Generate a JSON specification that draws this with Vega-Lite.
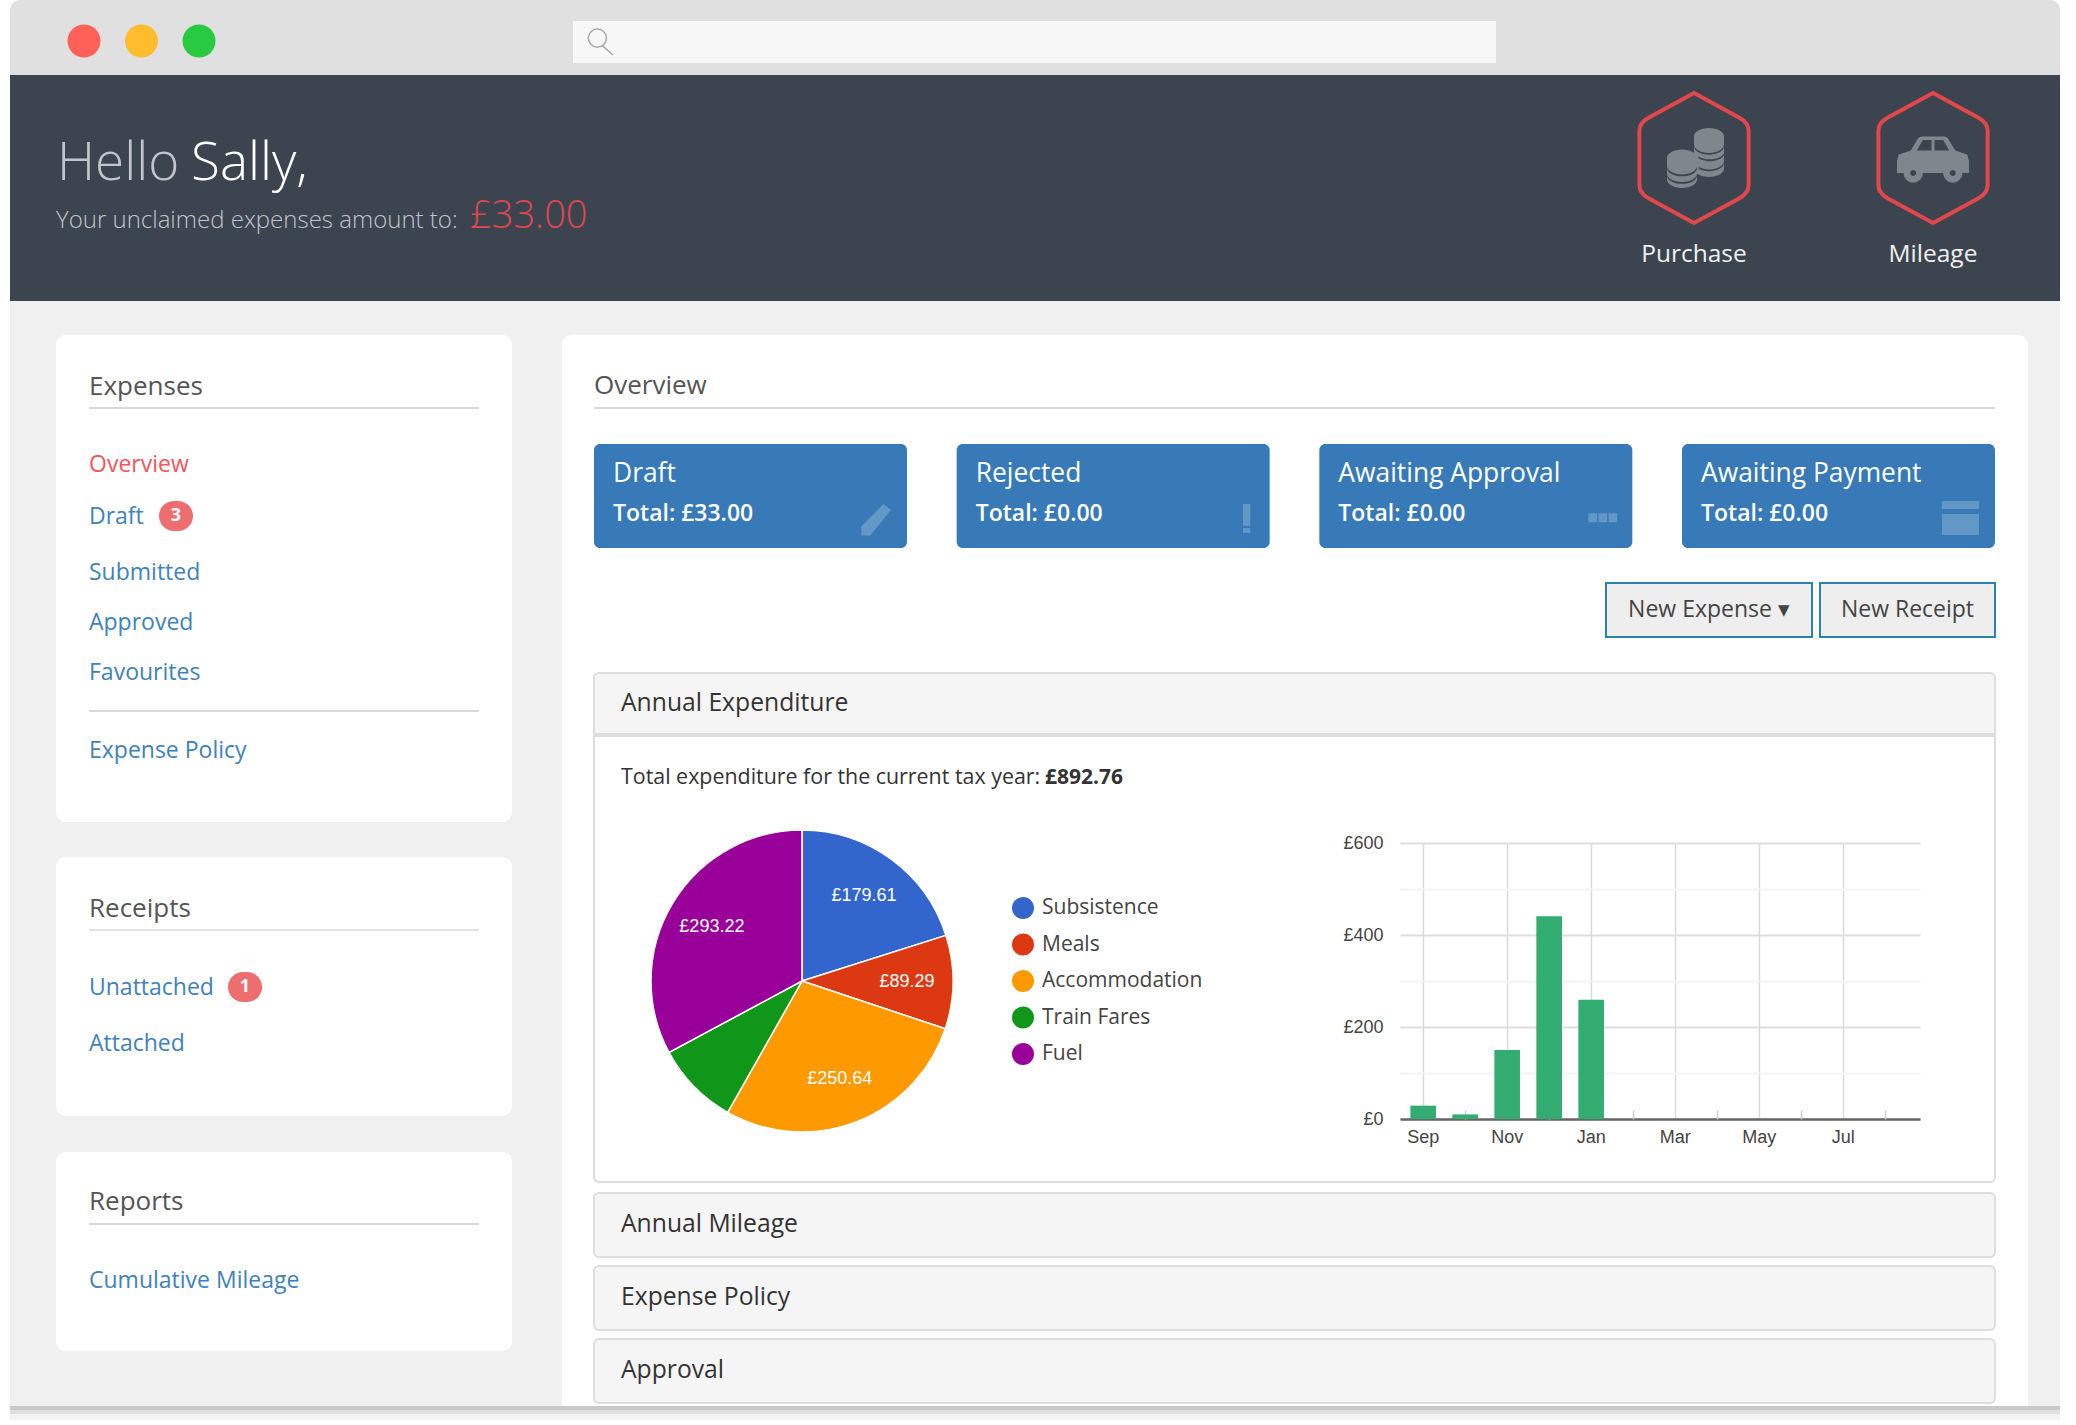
{"$schema":"https://vega.github.io/schema/vega-lite/v6.json","background":"white","padding":{"left":10,"top":0,"right":0,"bottom":0},"spacing":0,"resolve":{"scale":{"color":"independent","shape":"independent"}},"config":{"view":{"stroke":null},"font":"Open Sans"},"vconcat":[
{"resolve":{"scale":{"color":"independent","shape":"independent"}},"spacing":0,"hconcat":[
{"width":563,"height":75,"resolve":{"scale":{"x":"independent","y":"independent"}},"layer":[
{"data":{"values":[{}]},"mark":{"type":"rect","color":"#e0e0e0","cornerRadiusTopLeft":10}},
{"data":{"values":[{"b":"close"},{"b":"minimise"},{"b":"zoom"}]},"mark":{"type":"point","filled":true,"opacity":1,"size":1089,"shape":"circle","yOffset":3.5},"encoding":{"x":{"field":"b","type":"nominal","axis":null,"scale":{"type":"point","padding":0,"range":[74,189]}},"color":{"field":"b","type":"nominal","legend":null,"scale":{"domain":["close","minimise","zoom"],"range":["#ff6159","#ffbd2e","#28ca42"]}}}}
]},
{"spacing":0,"vconcat":[
{"width":923,"height":21,"data":{"values":[{}]},"mark":{"type":"rect","color":"#e0e0e0"}},
{"width":923,"height":42,"view":{"fill":"#f7f7f7"},"data":{"values":[{}]},"mark":{"type":"point","shape":"M0.5,-0.3A0.7,0.7 0 1 1 -0.9,-0.3A0.7,0.7 0 1 1 0.5,-0.3M0.2,0.3L1,1","size":676,"filled":false,"color":"#a8a8a8","strokeWidth":1.5,"opacity":1,"xOffset":27},"encoding":{"x":{"datum":"a","type":"nominal","axis":null,"scale":{"type":"point","align":0,"padding":0}}}},
{"width":923,"height":12,"data":{"values":[{}]},"mark":{"type":"rect","color":"#e0e0e0"}}
]},
{"width":564,"height":75,"data":{"values":[{}]},"mark":{"type":"rect","color":"#e0e0e0","cornerRadiusTopRight":10}}
]},
{"width":2050,"height":226,"view":{"fill":"#3c444f"},"resolve":{"scale":{"x":"independent","y":"independent","color":"independent","shape":"independent"}},"layer":[
{"data":{"values":[{"t":"Hello"},{"t":"Sally,"}]},"mark":{"type":"text","align":"left","baseline":"alphabetic","fontSize":53,"fontWeight":300},"encoding":{"text":{"field":"t"},"x":{"field":"t","type":"nominal","axis":null,"scale":{"type":"point","padding":0,"domain":["Hello","Sally,"],"range":[47,181]}},"y":{"datum":"greet","type":"nominal","axis":null,"scale":{"type":"point","padding":0,"domain":["greet","sub"],"range":[105,153]}},"color":{"field":"t","type":"nominal","legend":null,"scale":{"domain":["Hello","Sally,"],"range":["#c2c5c9","#ffffff"]}}}},
{"data":{"values":[{"t":"Your unclaimed expenses amount to:"}]},"mark":{"type":"text","align":"left","baseline":"alphabetic","fontSize":24,"fontWeight":300,"color":"#c2c5c9"},"encoding":{"text":{"field":"t"},"x":{"field":"t","type":"nominal","axis":null,"scale":{"type":"point","padding":0,"domain":["Your unclaimed expenses amount to:","£33.00"],"range":[46,460]}},"y":{"datum":"sub","type":"nominal","axis":null,"scale":{"type":"point","padding":0,"domain":["greet","sub"],"range":[105,153]}}}},
{"data":{"values":[{"t":"£33.00"}]},"mark":{"type":"text","align":"left","baseline":"alphabetic","fontSize":38,"fontWeight":300,"color":"#e2474c"},"encoding":{"text":{"field":"t"},"x":{"field":"t","type":"nominal","axis":null,"scale":{"type":"point","padding":0,"domain":["Your unclaimed expenses amount to:","£33.00"],"range":[46,460]}},"y":{"datum":"sub","type":"nominal","axis":null,"scale":{"type":"point","padding":0,"domain":["greet","sub"],"range":[105,153]}}}},
{"data":{"values":[{"t":"Purchase"},{"t":"Mileage"}]},"mark":{"type":"point","filled":false,"opacity":1,"size":16900,"color":"#e2474c","strokeWidth":4,"shape":"M0,-1L0.7,-0.62Q0.84,-0.54 0.84,-0.42L0.84,0.42Q0.84,0.54 0.7,0.62L0,1L-0.7,0.62Q-0.84,0.54 -0.84,0.42L-0.84,-0.42Q-0.84,-0.54 -0.7,-0.62Z"},"encoding":{"x":{"field":"t","type":"nominal","axis":null,"scale":{"type":"point","padding":0,"domain":["Purchase","Mileage"],"range":[1684,1923]}},"y":{"datum":"icon","type":"nominal","axis":null,"scale":{"type":"point","padding":0,"domain":["icon","label"],"range":[83,187]}}}},
{"data":{"values":[{"t":"Purchase"},{"t":"Mileage"}]},"mark":{"type":"point","filled":true,"opacity":1,"size":3600,"color":"#7f878d"},"encoding":{"x":{"field":"t","type":"nominal","axis":null,"scale":{"type":"point","padding":0,"domain":["Purchase","Mileage"],"range":[1684,1923]}},"y":{"datum":"icon","type":"nominal","axis":null,"scale":{"type":"point","padding":0,"domain":["icon","label"],"range":[83,187]}},"shape":{"field":"t","type":"nominal","legend":null,"scale":{"domain":["Purchase","Mileage"],"range":["M0,-0.72A0.5,0.28 0 0 1 1,-0.72L1,0.35A0.5,0.28 0 0 1 0,0.35ZM-0.9,0A0.5,0.28 0 0 1 0.1,0L0.1,0.72A0.5,0.28 0 0 1 -0.9,0.72Z","M-1.2,0.1L-1.14,-0.12L-0.74,-0.25L-0.5,-0.65Q-0.46,-0.72 -0.36,-0.72L0.36,-0.72Q0.46,-0.72 0.5,-0.65L0.74,-0.25L1.14,-0.12L1.2,0.1L1.2,0.5L0.98,0.5A0.32,0.32 0 0 1 0.34,0.5L-0.34,0.5A0.32,0.32 0 0 1 -0.98,0.5L-1.2,0.5Z"]}}}},
{"data":{"values":[{"t":"Purchase"},{"t":"Mileage"}]},"mark":{"type":"point","filled":true,"opacity":1,"size":3600,"color":"#3c444f"},"encoding":{"x":{"field":"t","type":"nominal","axis":null,"scale":{"type":"point","padding":0,"domain":["Purchase","Mileage"],"range":[1684,1923]}},"y":{"datum":"icon","type":"nominal","axis":null,"scale":{"type":"point","padding":0,"domain":["icon","label"],"range":[83,187]}},"shape":{"field":"t","type":"nominal","legend":null,"scale":{"domain":["Purchase","Mileage"],"range":["M0,-0.45A0.5,0.28 0 0 0 1,-0.45L1,-0.39A0.5,0.28 0 0 1 0,-0.39ZM0.15,-0.05A0.5,0.28 0 0 0 1,-0.15L1,-0.09A0.5,0.28 0 0 1 0.15,0.01ZM0.15,0.3A0.5,0.28 0 0 0 1,0.1L1,0.16A0.5,0.28 0 0 1 0.15,0.36ZM-0.9,0.27A0.5,0.28 0 0 0 0.1,0.27L0.1,0.33A0.5,0.28 0 0 1 -0.9,0.33ZM-0.9,0.52A0.5,0.28 0 0 0 0.1,0.52L0.1,0.58A0.5,0.28 0 0 1 -0.9,0.58Z","M-0.54,-0.25L-0.34,-0.6L-0.05,-0.6L-0.05,-0.25ZM0.05,-0.25L0.05,-0.6L0.34,-0.6L0.54,-0.25ZM-0.56,0.5A0.1,0.1 0 1 0 -0.76,0.5A0.1,0.1 0 1 0 -0.56,0.5ZM0.76,0.5A0.1,0.1 0 1 0 0.56,0.5A0.1,0.1 0 1 0 0.76,0.5Z"]}}}},
{"data":{"values":[{"t":"Purchase"},{"t":"Mileage"}]},"mark":{"type":"text","baseline":"alphabetic","fontSize":24.5,"color":"#f0f0f0"},"encoding":{"text":{"field":"t"},"x":{"field":"t","type":"nominal","axis":null,"scale":{"type":"point","padding":0,"domain":["Purchase","Mileage"],"range":[1684,1923]}},"y":{"datum":"label","type":"nominal","axis":null,"scale":{"type":"point","padding":0,"domain":["icon","label"],"range":[83,187]}}}}
]},
{"resolve":{"scale":{"color":"independent","shape":"independent"}},"spacing":0,"hconcat":[
{"width":46,"height":1105,"data":{"values":[{}]},"mark":{"type":"rect","color":"#f0f0f0"}},
{"spacing":0,"resolve":{"scale":{"color":"independent","shape":"independent"}},"vconcat":[
{"width":456,"height":34,"data":{"values":[{}]},"mark":{"type":"rect","color":"#f0f0f0"}},
{"width":456,"height":74,"view":{"fill":"#f0f0f0"},"resolve":{"scale":{"x":"independent","y":"independent"}},"layer":[
{"data":{"values":[{}]},"mark":{"type":"rect","color":"#ffffff","cornerRadiusTopLeft":10,"cornerRadiusTopRight":10}},
{"data":{"values":[{"t":"Expenses"}]},"mark":{"type":"text","align":"left","xOffset":33,"yOffset":15,"fontSize":26,"color":"#555555"},"encoding":{"text":{"field":"t"},"x":{"datum":"a","type":"nominal","axis":null,"scale":{"type":"point","align":0,"padding":0}}}},
{"data":{"values":[{"k":"rule"}]},"mark":{"type":"rect","color":"#d8d8d8"},"encoding":{"x":{"field":"k","type":"nominal","axis":null,"scale":{"type":"band","range":[33,423],"padding":0}},"y":{"field":"k","type":"nominal","axis":null,"scale":{"type":"band","range":[72,74],"padding":0}}}}
]},
{"width":456,"height":413,"view":{"fill":"#f0f0f0"},"resolve":{"scale":{"x":"independent","y":"independent","color":"independent"}},"layer":[
{"data":{"values":[{}]},"mark":{"type":"rect","color":"#ffffff","cornerRadiusBottomLeft":10,"cornerRadiusBottomRight":10}},
{"data":{"values":[{"t":"Overview"},{"t":"Draft"}]},"mark":{"type":"text","align":"left","xOffset":33,"fontSize":23},"encoding":{"text":{"field":"t"},"x":{"datum":"a","type":"nominal","axis":null,"scale":{"type":"point","align":0,"padding":0}},"y":{"field":"t","type":"nominal","axis":null,"scale":{"type":"point","padding":0,"domain":["Overview","Draft"],"range":[56,108]}},"color":{"field":"t","type":"nominal","legend":null,"scale":{"domain":["Overview","Draft"],"range":["#f2575b","#3f82bb"]}}}},
{"data":{"values":[{"t":"Submitted"},{"t":"Approved"}]},"mark":{"type":"text","align":"left","xOffset":33,"fontSize":23,"color":"#3f82bb"},"encoding":{"text":{"field":"t"},"x":{"datum":"a","type":"nominal","axis":null,"scale":{"type":"point","align":0,"padding":0}},"y":{"field":"t","type":"nominal","axis":null,"scale":{"type":"point","padding":0,"domain":["Submitted","Approved"],"range":[164,214]}}}},
{"data":{"values":[{"t":"Favourites"},{"t":"Expense Policy"}]},"mark":{"type":"text","align":"left","xOffset":33,"fontSize":23,"color":"#3f82bb"},"encoding":{"text":{"field":"t"},"x":{"datum":"a","type":"nominal","axis":null,"scale":{"type":"point","align":0,"padding":0}},"y":{"field":"t","type":"nominal","axis":null,"scale":{"type":"point","padding":0,"domain":["Favourites","Expense Policy"],"range":[264,342]}}}},
{"data":{"values":[{"k":"rule"}]},"mark":{"type":"rect","color":"#d8d8d8"},"encoding":{"x":{"field":"k","type":"nominal","axis":null,"scale":{"type":"band","range":[33,423],"padding":0}},"y":{"field":"k","type":"nominal","axis":null,"scale":{"type":"band","range":[301,303],"padding":0}}}},
{"data":{"values":[{"t":"3"}]},"mark":{"type":"rect","color":"#ee6d6f","cornerRadius":15},"encoding":{"x":{"field":"t","type":"nominal","axis":null,"scale":{"type":"band","range":[103,137],"padding":0}},"y":{"field":"t","type":"nominal","axis":null,"scale":{"type":"band","range":[92,122],"padding":0}}}},
{"data":{"values":[{"t":"3"}]},"mark":{"type":"text","fontSize":18,"fontWeight":"bold","color":"#ffffff"},"encoding":{"text":{"field":"t"},"x":{"field":"t","type":"nominal","axis":null,"scale":{"type":"band","range":[103,137],"padding":0}},"y":{"field":"t","type":"nominal","axis":null,"scale":{"type":"band","range":[92,122],"padding":0}}}}
]},
{"width":456,"height":35,"data":{"values":[{}]},"mark":{"type":"rect","color":"#f0f0f0"}},
{"width":456,"height":74,"view":{"fill":"#f0f0f0"},"resolve":{"scale":{"x":"independent","y":"independent"}},"layer":[
{"data":{"values":[{}]},"mark":{"type":"rect","color":"#ffffff","cornerRadiusTopLeft":10,"cornerRadiusTopRight":10}},
{"data":{"values":[{"t":"Receipts"}]},"mark":{"type":"text","align":"left","xOffset":33,"yOffset":15,"fontSize":26,"color":"#555555"},"encoding":{"text":{"field":"t"},"x":{"datum":"a","type":"nominal","axis":null,"scale":{"type":"point","align":0,"padding":0}}}},
{"data":{"values":[{"k":"rule"}]},"mark":{"type":"rect","color":"#e2e2e2"},"encoding":{"x":{"field":"k","type":"nominal","axis":null,"scale":{"type":"band","range":[33,423],"padding":0}},"y":{"field":"k","type":"nominal","axis":null,"scale":{"type":"band","range":[72,74],"padding":0}}}}
]},
{"width":456,"height":185,"view":{"fill":"#f0f0f0"},"resolve":{"scale":{"x":"independent","y":"independent"}},"layer":[
{"data":{"values":[{}]},"mark":{"type":"rect","color":"#ffffff","cornerRadiusBottomLeft":10,"cornerRadiusBottomRight":10}},
{"data":{"values":[{"t":"Unattached"},{"t":"Attached"}]},"mark":{"type":"text","align":"left","xOffset":33,"fontSize":23,"color":"#3f82bb"},"encoding":{"text":{"field":"t"},"x":{"datum":"a","type":"nominal","axis":null,"scale":{"type":"point","align":0,"padding":0}},"y":{"field":"t","type":"nominal","axis":null,"scale":{"type":"point","padding":0,"domain":["Unattached","Attached"],"range":[57,113]}}}},
{"data":{"values":[{"t":"1"}]},"mark":{"type":"rect","color":"#ee6d6f","cornerRadius":15},"encoding":{"x":{"field":"t","type":"nominal","axis":null,"scale":{"type":"band","range":[172,206],"padding":0}},"y":{"field":"t","type":"nominal","axis":null,"scale":{"type":"band","range":[41,71],"padding":0}}}},
{"data":{"values":[{"t":"1"}]},"mark":{"type":"text","fontSize":18,"fontWeight":"bold","color":"#ffffff"},"encoding":{"text":{"field":"t"},"x":{"field":"t","type":"nominal","axis":null,"scale":{"type":"band","range":[172,206],"padding":0}},"y":{"field":"t","type":"nominal","axis":null,"scale":{"type":"band","range":[41,71],"padding":0}}}}
]},
{"width":456,"height":36,"data":{"values":[{}]},"mark":{"type":"rect","color":"#f0f0f0"}},
{"width":456,"height":74,"view":{"fill":"#f0f0f0"},"resolve":{"scale":{"x":"independent","y":"independent"}},"layer":[
{"data":{"values":[{}]},"mark":{"type":"rect","color":"#ffffff","cornerRadiusTopLeft":10,"cornerRadiusTopRight":10}},
{"data":{"values":[{"t":"Reports"}]},"mark":{"type":"text","align":"left","xOffset":33,"yOffset":13,"fontSize":26,"color":"#555555"},"encoding":{"text":{"field":"t"},"x":{"datum":"a","type":"nominal","axis":null,"scale":{"type":"point","align":0,"padding":0}}}},
{"data":{"values":[{"k":"rule"}]},"mark":{"type":"rect","color":"#d8d8d8"},"encoding":{"x":{"field":"k","type":"nominal","axis":null,"scale":{"type":"band","range":[33,423],"padding":0}},"y":{"field":"k","type":"nominal","axis":null,"scale":{"type":"band","range":[71,73],"padding":0}}}}
]},
{"width":456,"height":125,"view":{"fill":"#f0f0f0"},"layer":[
{"data":{"values":[{}]},"mark":{"type":"rect","color":"#ffffff","cornerRadiusBottomLeft":10,"cornerRadiusBottomRight":10}},
{"data":{"values":[{"t":"Cumulative Mileage"}]},"mark":{"type":"text","align":"left","xOffset":33,"yOffset":-7.5,"fontSize":23,"color":"#3f82bb"},"encoding":{"text":{"field":"t"},"x":{"datum":"a","type":"nominal","axis":null,"scale":{"type":"point","align":0,"padding":0}}}}
]},
{"width":456,"height":55,"data":{"values":[{}]},"mark":{"type":"rect","color":"#f0f0f0"}}
]},
{"width":50,"height":1105,"data":{"values":[{}]},"mark":{"type":"rect","color":"#f0f0f0"}},
{"spacing":0,"resolve":{"scale":{"color":"independent","shape":"independent"}},"vconcat":[
{"width":1466,"height":34,"data":{"values":[{}]},"mark":{"type":"rect","color":"#f0f0f0"}},
{"width":1466,"height":109,"view":{"fill":"#f0f0f0"},"resolve":{"scale":{"x":"independent","y":"independent"}},"layer":[
{"data":{"values":[{}]},"mark":{"type":"rect","color":"#ffffff","cornerRadiusTopLeft":10,"cornerRadiusTopRight":10}},
{"data":{"values":[{"t":"Overview"}]},"mark":{"type":"text","align":"left","xOffset":32,"yOffset":-3.5,"fontSize":26,"color":"#555555"},"encoding":{"text":{"field":"t"},"x":{"datum":"a","type":"nominal","axis":null,"scale":{"type":"point","align":0,"padding":0}}}},
{"data":{"values":[{"k":"rule"}]},"mark":{"type":"rect","color":"#d8d8d8"},"encoding":{"x":{"field":"k","type":"nominal","axis":null,"scale":{"type":"band","range":[32,1433],"padding":0}},"y":{"field":"k","type":"nominal","axis":null,"scale":{"type":"band","range":[72,74],"padding":0}}}}
]},
{"width":1466,"height":104,"data":{"values":[{"card":"Draft","total":"Total: £33.00"},{"card":"Rejected","total":"Total: £0.00"},{"card":"Awaiting Approval","total":"Total: £0.00"},{"card":"Awaiting Payment","total":"Total: £0.00"}]},"encoding":{"x":{"field":"card","type":"nominal","axis":null,"sort":null,"scale":{"type":"band","range":[32,1433],"paddingInner":0.137,"paddingOuter":0}}},"layer":[
{"mark":{"type":"rect","color":"#377ab7","cornerRadius":6}},
{"mark":{"type":"text","align":"left","xOffset":19,"yOffset":-22,"fontSize":26.4,"color":"#ffffff"},"encoding":{"x":{"field":"card","type":"nominal","axis":null,"sort":null,"bandPosition":0},"text":{"field":"card"}}},
{"mark":{"type":"text","align":"left","xOffset":19,"yOffset":18,"fontSize":23,"fontWeight":600,"color":"#ffffff"},"encoding":{"x":{"field":"card","type":"nominal","axis":null,"sort":null,"bandPosition":0},"text":{"field":"total"}}},
{"mark":{"type":"point","filled":true,"opacity":0.22,"color":"#ffffff","size":1100,"xOffset":-30,"yOffset":23},"encoding":{"x":{"field":"card","type":"nominal","axis":null,"sort":null,"bandPosition":1},"shape":{"field":"card","type":"nominal","legend":null,"scale":{"domain":["Draft","Rejected","Awaiting Approval","Awaiting Payment"],"range":["M0.4,-0.9L0.85,-0.55L-0.4,1L-0.95,1L-0.95,0.45Z","M0.2,-0.9L0.64,-0.9L0.64,0.4L0.2,0.4ZM0.2,0.55L0.64,0.55L0.64,0.85L0.2,0.85Z","M-0.84,-0.35L-0.32,-0.35L-0.32,0.2L-0.84,0.2ZM-0.23,-0.35L0.29,-0.35L0.29,0.2L-0.23,0.2ZM0.38,-0.35L0.9,-0.35L0.9,0.2L0.38,0.2Z","M-1.39,-1.08L0.84,-1.08L0.84,-0.6L-1.39,-0.6ZM-1.39,-0.3L0.84,-0.3L0.84,0.96L-1.39,0.96Z"]}}}}
]},
{"width":1466,"height":34,"data":{"values":[{}]},"mark":{"type":"rect","opacity":0}},
{"width":1466,"height":56,"resolve":{"scale":{"x":"independent","y":"independent"}},"layer":[
{"data":{"values":[{"t":"New Expense ▾"}]},"encoding":{"x":{"field":"t","type":"nominal","axis":null,"scale":{"type":"band","range":[1044,1250],"padding":0}}},"layer":[
{"mark":{"type":"rect","color":"#eeeeee","stroke":"#2c82a9","strokeWidth":2},"encoding":{"y":{"field":"t","type":"nominal","axis":null,"scale":{"type":"band","range":[1,55],"padding":0}}}},
{"mark":{"type":"text","fontSize":23,"color":"#444444"},"encoding":{"text":{"field":"t"}}}
]},
{"data":{"values":[{"t":"New Receipt"}]},"encoding":{"x":{"field":"t","type":"nominal","axis":null,"scale":{"type":"band","range":[1258,1433],"padding":0}}},"layer":[
{"mark":{"type":"rect","color":"#eeeeee","stroke":"#2c82a9","strokeWidth":2},"encoding":{"y":{"field":"t","type":"nominal","axis":null,"scale":{"type":"band","range":[1,55],"padding":0}}}},
{"mark":{"type":"text","fontSize":23,"color":"#444444"},"encoding":{"text":{"field":"t"}}}
]}
]},
{"width":1466,"height":34,"data":{"values":[{}]},"mark":{"type":"rect","opacity":0}},
{"width":1466,"height":63,"data":{"values":[{"t":"Annual Expenditure"}]},"encoding":{"x":{"field":"t","type":"nominal","axis":null,"scale":{"type":"band","range":[32,1433],"padding":0}}},"layer":[
{"mark":{"type":"rect","color":"#f5f5f5","stroke":"#dddddd","strokeWidth":2,"cornerRadiusTopLeft":5,"cornerRadiusTopRight":5},"encoding":{"y":{"field":"t","type":"nominal","axis":null,"scale":{"type":"band","range":[1,62],"padding":0}}}},
{"mark":{"type":"text","align":"left","xOffset":27,"fontSize":24.7,"color":"#333333"},"encoding":{"x":{"field":"t","type":"nominal","axis":null,"bandPosition":0},"text":{"field":"t"}}}
]},
{"bounds":"flush","spacing":358,"resolve":{"scale":{"color":"independent","shape":"independent"}},"hconcat":[
{"width":480,"height":276,"resolve":{"scale":{"x":"independent","y":"independent"}},"layer":[
{"data":{"values":[{"k":"panel"}]},"mark":{"type":"rect","fillOpacity":0,"stroke":"#dddddd","strokeWidth":2,"cornerRadiusBottomLeft":5,"cornerRadiusBottomRight":5},"encoding":{"x":{"field":"k","type":"nominal","axis":null,"scale":{"type":"band","range":[32,1433],"padding":0}},"y":{"field":"k","type":"nominal","axis":null,"scale":{"type":"band","range":[-107,339],"padding":0}}}},
{"data":{"values":[{"t":"Total expenditure for the current tax year:"}]},"mark":{"type":"text","align":"left","yOffset":-203,"fontSize":21.4,"color":"#333333"},"encoding":{"text":{"field":"t"},"x":{"field":"t","type":"nominal","axis":null,"scale":{"type":"point","padding":0,"domain":["Total expenditure for the current tax year:","£892.76"],"range":[59,483]}}}},
{"data":{"values":[{"t":"£892.76"}]},"mark":{"type":"text","align":"left","yOffset":-203,"fontSize":21,"fontWeight":"bold","color":"#333333"},"encoding":{"text":{"field":"t"},"x":{"field":"t","type":"nominal","axis":null,"scale":{"type":"point","padding":0,"domain":["Total expenditure for the current tax year:","£892.76"],"range":[59,483]}}}},
{"data":{"values":[{"category":"Subsistence","amount":179.61,"label":"£179.61","rank":1},{"category":"Meals","amount":89.29,"label":"£89.29","rank":2},{"category":"Accommodation","amount":250.64,"label":"£250.64","rank":3},{"category":"Train Fares","amount":80.0,"label":"","rank":4},{"category":"Fuel","amount":293.22,"label":"£293.22","rank":5}]},"encoding":{"theta":{"field":"amount","type":"quantitative","stack":true},"order":{"field":"rank","type":"ordinal"}},"layer":[
{"mark":{"type":"arc","radius":151,"stroke":"#ffffff","strokeWidth":1.5},"encoding":{"color":{"field":"category","type":"nominal","scale":{"domain":["Subsistence","Meals","Accommodation","Train Fares","Fuel"],"range":["#3366cc","#dc3912","#ff9900","#109618","#990099"]},"legend":{"orient":"none","legendX":450,"legendY":54,"title":null,"symbolType":"circle","symbolSize":484,"symbolStrokeWidth":0,"symbolOpacity":1,"labelFont":"Open Sans","labelFontSize":21,"labelColor":"#444444","labelOffset":8,"labelLimit":300,"rowPadding":14.5}}}},
{"mark":{"type":"text","radius":105,"font":"Liberation Sans","fontSize":18,"color":"#ffffff"},"encoding":{"text":{"field":"label"}}}
]}
]},
{"width":520,"height":276,"data":{"values":[{"month":"Sep","amount":29},{"month":"Oct","amount":10},{"month":"Nov","amount":150},{"month":"Dec","amount":441},{"month":"Jan","amount":259},{"month":"Feb","amount":0},{"month":"Mar","amount":0},{"month":"Apr","amount":0},{"month":"May","amount":0},{"month":"Jun","amount":0},{"month":"Jul","amount":0},{"month":"Aug","amount":0}]},"resolve":{"axis":{"x":"independent"}},"encoding":{"x":{"field":"month","type":"nominal","sort":null,"title":null,"scale":{"type":"band","paddingInner":0.39,"paddingOuter":0.385,"align":0.32}}},"layer":[
{"mark":{"type":"bar","color":"#33ac71"},"encoding":{"x":{"field":"month","type":"nominal","sort":null,"title":null,"axis":{"values":["Sep","Nov","Jan","Mar","May","Jul"],"labelAngle":0,"labelFont":"Liberation Sans","labelFontSize":18,"labelColor":"#444444","labelPadding":9,"ticks":false,"grid":true,"gridColor":"#dadada","gridWidth":1.5,"domainColor":"#666666","domainWidth":2.5}},"y":{"field":"amount","type":"quantitative","title":null,"scale":{"domain":[0,600],"nice":false},"axis":{"values":[0,100,200,300,400,500,600],"labelExpr":"datum.value%200==0?'£'+datum.value:''","labelFont":"Liberation Sans","labelFontSize":18,"labelColor":"#444444","labelPadding":17,"ticks":false,"domain":false,"grid":true,"gridWidth":2,"gridColor":{"condition":{"test":"datum.value%200==0","value":"#dedede"},"value":"#f3f3f3"}}}}},
{"mark":{"type":"rule","opacity":0},"encoding":{"x":{"field":"month","type":"nominal","sort":null,"title":null,"axis":{"orient":"bottom","values":["Oct","Dec","Feb","Apr","Jun","Aug"],"labels":false,"domain":false,"grid":false,"ticks":true,"tickColor":"#cccccc","tickWidth":1.5,"tickSize":-9}}}}
]}
]},
{"width":1466,"height":223,"data":{"values":[{"t":"Annual Mileage"},{"t":"Expense Policy"},{"t":"Approval"}]},"encoding":{"x":{"datum":"a","type":"nominal","axis":null,"scale":{"type":"band","range":[32,1433],"padding":0}},"y":{"field":"t","type":"nominal","axis":null,"sort":null,"scale":{"type":"band","range":[10,220],"paddingInner":0.123,"paddingOuter":0}}},"layer":[
{"mark":{"type":"rect","color":"#f5f5f5","stroke":"#dddddd","strokeWidth":2,"cornerRadius":5}},
{"mark":{"type":"text","align":"left","xOffset":27,"fontSize":24.7,"color":"#333333"},"encoding":{"x":{"datum":"a","type":"nominal","axis":null,"bandPosition":0},"text":{"field":"t"}}}
]}
]},
{"width":32,"height":1105,"data":{"values":[{}]},"mark":{"type":"rect","color":"#f0f0f0"}}
]},
{"width":2050,"height":4,"data":{"values":[{}]},"mark":{"type":"rect","color":"#c9c9c9"}},
{"width":2050,"height":4,"data":{"values":[{}]},"mark":{"type":"rect","color":"#e0e0e0"}},
{"width":2050,"height":6,"data":{"values":[{}]},"mark":{"type":"rect","color":"#f3f3f3"}}
]}
